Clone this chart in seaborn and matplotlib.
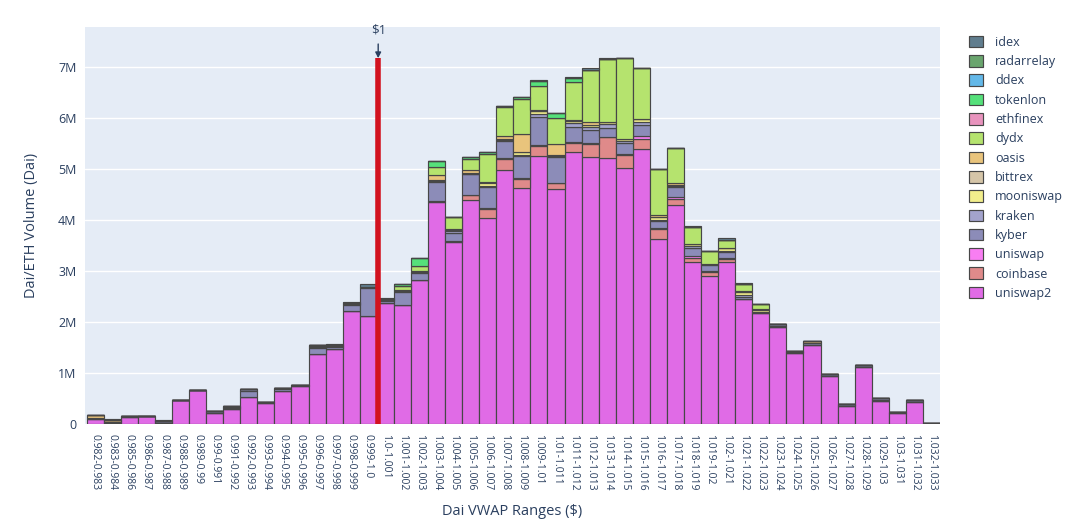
import numpy as np
import pandas as pd
import matplotlib
matplotlib.use('Agg')
import matplotlib.pyplot as plt
import seaborn as sns
from matplotlib.ticker import FuncFormatter, FixedLocator

# ---------------- data (values in millions of Dai) ----------------
ranges = ['0.982-0.983', '0.983-0.984', '0.985-0.986', '0.986-0.987', '0.987-0.988',
          '0.988-0.989', '0.989-0.99', '0.99-0.991', '0.991-0.992', '0.992-0.993',
          '0.993-0.994', '0.994-0.995', '0.995-0.996', '0.996-0.997', '0.997-0.998',
          '0.998-0.999', '0.999-1.0', '1.0-1.001', '1.001-1.002', '1.002-1.003',
          '1.003-1.004', '1.004-1.005', '1.005-1.006', '1.006-1.007', '1.007-1.008',
          '1.008-1.009', '1.009-1.01', '1.01-1.011', '1.011-1.012', '1.012-1.013',
          '1.013-1.014', '1.014-1.015', '1.015-1.016', '1.016-1.017', '1.017-1.018',
          '1.018-1.019', '1.019-1.02', '1.02-1.021', '1.021-1.022', '1.022-1.023',
          '1.023-1.024', '1.024-1.025', '1.025-1.026', '1.026-1.027', '1.027-1.028',
          '1.028-1.029', '1.029-1.03', '1.03-1.031', '1.031-1.032', '1.032-1.033']

uniswap2 = [0.105, 0.02, 0.13, 0.155, 0.025, 0.48, 0.66, 0.22, 0.29, 0.535,
            0.42, 0.65, 0.74, 1.37, 1.46, 2.22, 2.11, 2.38, 2.33, 2.83,
            4.36, 3.56, 4.39, 4.03, 4.98, 4.62, 5.25, 4.60, 5.33, 5.23,
            5.21, 5.01, 5.39, 3.62, 4.29, 3.18, 2.91, 3.18, 2.44, 2.18,
            1.90, 1.39, 1.55, 0.95, 0.36, 1.11, 0.45, 0.21, 0.43, 0.005]
coinbase = [0, 0, 0, 0, 0, 0, 0, 0, 0, 0,
            0, 0, 0, 0, 0, 0, 0, 0, 0, 0,
            0, 0, 0.09, 0.18, 0.22, 0.19, 0.20, 0.12, 0.17, 0.26,
            0.41, 0.26, 0.20, 0.20, 0.12, 0.08, 0.06, 0.05, 0, 0,
            0, 0, 0, 0, 0, 0, 0, 0, 0, 0]
uniswap = [0, 0, 0, 0, 0, 0, 0, 0, 0, 0,
           0, 0, 0, 0, 0, 0, 0, 0, 0, 0,
           0.01, 0.03, 0.01, 0.02, 0.02, 0.02, 0.02, 0.01, 0.02, 0.02,
           0.01, 0.02, 0.05, 0.02, 0.03, 0.03, 0.02, 0.02, 0, 0,
           0, 0, 0, 0, 0, 0, 0, 0, 0, 0]
kyber = [0.015, 0.015, 0.025, 0.005, 0.03, 0, 0, 0.025, 0.03, 0.12,
         0.02, 0.04, 0.03, 0.12, 0.05, 0.12, 0.55, 0.03, 0.25, 0.12,
         0.38, 0.16, 0.40, 0.42, 0.32, 0.43, 0.55, 0.50, 0.31, 0.25,
         0.17, 0.22, 0.22, 0.14, 0.20, 0.15, 0.12, 0.13, 0.04, 0.02,
         0.03, 0.02, 0.03, 0.03, 0.03, 0.04, 0.03, 0.025, 0.05, 0.015]
kraken = [0, 0, 0, 0, 0, 0, 0, 0, 0, 0.025,
          0, 0.01, 0, 0.02, 0.02, 0.02, 0.03, 0.02, 0.02, 0.02,
          0.02, 0.03, 0.01, 0.02, 0.03, 0.02, 0.06, 0.03, 0.06, 0.06,
          0.07, 0.04, 0.06, 0.02, 0.02, 0.04, 0.02, 0.02, 0.05, 0,
          0.02, 0, 0, 0, 0, 0, 0.02, 0, 0, 0]
mooniswap = [0, 0, 0, 0, 0, 0, 0, 0, 0.015, 0,
             0, 0, 0, 0.02, 0, 0.01, 0, 0.01, 0.02, 0.03,
             0.01, 0.02, 0.01, 0.06, 0.02, 0.05, 0.05, 0.01, 0.05, 0.04,
             0.04, 0.03, 0.05, 0.06, 0.03, 0.04, 0.01, 0.04, 0.05, 0.03,
             0, 0.015, 0, 0, 0, 0, 0, 0, 0, 0]
bittrex = [0, 0, 0, 0, 0, 0, 0, 0, 0, 0,
           0, 0, 0, 0.01, 0, 0, 0, 0, 0, 0,
           0, 0, 0, 0.01, 0, 0, 0.01, 0, 0, 0,
           0, 0, 0, 0, 0, 0, 0, 0, 0, 0,
           0, 0, 0, 0, 0, 0, 0, 0, 0, 0]
oasis = [0.05, 0.045, 0, 0, 0, 0, 0, 0, 0.015, 0,
         0, 0, 0, 0, 0.02, 0, 0, 0, 0, 0,
         0.09, 0.02, 0.06, 0.01, 0.06, 0.36, 0.01, 0.22, 0.01, 0.06,
         0, 0, 0, 0.03, 0.03, 0.01, 0, 0, 0.02, 0.02,
         0, 0, 0.04, 0, 0, 0, 0, 0, 0, 0]
dydx = [0, 0, 0, 0, 0, 0, 0, 0, 0, 0,
        0, 0, 0, 0, 0, 0, 0, 0, 0.09, 0.09,
        0.17, 0.23, 0.22, 0.55, 0.57, 0.67, 0.48, 0.50, 0.76, 1.02,
        1.25, 1.59, 1.00, 0.90, 0.69, 0.33, 0.25, 0.17, 0.14, 0.10,
        0, 0, 0, 0, 0, 0, 0, 0, 0, 0]
ethfinex = [0] * 50
tokenlon = [0, 0, 0, 0, 0, 0, 0, 0, 0, 0,
            0, 0, 0, 0, 0, 0, 0, 0, 0.03, 0.16,
            0.11, 0, 0.04, 0.04, 0.01, 0.05, 0.09, 0.11, 0.07, 0,
            0, 0, 0, 0.01, 0, 0, 0, 0, 0, 0,
            0, 0, 0, 0, 0, 0, 0, 0, 0, 0]
ddex = [0] * 50
radarrelay = [0] * 50
idex = [0, 0.01, 0, 0, 0.02, 0, 0, 0, 0, 0.015,
        0, 0, 0, 0, 0.01, 0.02, 0.05, 0.02, 0, 0,
        0, 0, 0, 0, 0, 0, 0.02, 0, 0.02, 0.04,
        0.01, 0, 0, 0, 0, 0.03, 0, 0.03, 0.02, 0,
        0, 0, 0, 0, 0, 0, 0, 0, 0, 0]

exchanges = ['idex', 'radarrelay', 'ddex', 'tokenlon', 'ethfinex', 'dydx', 'oasis',
             'bittrex', 'mooniswap', 'kraken', 'kyber', 'uniswap', 'coinbase', 'uniswap2']
series = [idex, radarrelay, ddex, tokenlon, ethfinex, dydx, oasis,
          bittrex, mooniswap, kraken, kyber, uniswap, coinbase, uniswap2]
colors = ['#607d8e', '#6aa56e', '#63b8e8', '#55e07a', '#e893bd', '#b5e36e', '#e9c47c',
          '#d5c5a8', '#f2ee8c', '#a3a3cc', '#8c8cb8', '#f87ef2', '#df8a8a', '#e06be6']

peg_label = '1.0-1.001'

# ---------------- build long data ----------------
rows = []
for name, vals in zip(exchanges, series):
    for r, v in zip(ranges, vals):
        rows.append((r, name, v * 1e6))
df = pd.DataFrame(rows, columns=['range', 'exchange', 'volume'])
totals = df.groupby('range', sort=False)['volume'].sum()

# ---------------- style ----------------
sns.set_style('darkgrid', {'axes.facecolor': '#e5ecf6', 'grid.color': 'white',
                           'axes.edgecolor': '#e5ecf6'})
plt.rcParams['font.family'] = ['Open Sans', 'DejaVu Sans']
txt = '#2a3f5f'

fig = plt.figure(figsize=(10.79, 5.22), dpi=100)
ax = fig.add_axes([85 / 1079, 98 / 522, 855 / 1079, 397 / 522])

sns.histplot(data=df, x='range', hue='exchange', weights='volume',
             hue_order=exchanges, palette=dict(zip(exchanges, colors)),
             multiple='stack', discrete=True, shrink=1, stat='count',
             edgecolor='#474747', linewidth=0.85, alpha=1, ax=ax, legend=True)

# $1 peg line
peg_x = ranges.index(peg_label) - 0.5
peg_top = totals.max()
ax.vlines(peg_x + 0.08, 0, peg_top, colors='#d2121f', linewidth=4.0, zorder=5)
ax.annotate(r'\$1', xy=(peg_x + 0.08, peg_top), xytext=(peg_x + 0.08, peg_top + 0.55e6),
            ha='center', va='center', fontsize=9.5, color=txt,
            arrowprops=dict(arrowstyle='-|>,head_length=0.35,head_width=0.18',
                            color=txt, lw=1.0, shrinkA=3, shrinkB=0), zorder=6)

ax.set_xlim(-0.6, len(ranges) - 0.5)
ax.set_ylim(0, 7.78e6)
ax.yaxis.set_major_locator(FixedLocator(np.arange(0, 8) * 1e6))
ax.yaxis.set_major_formatter(FuncFormatter(lambda v, p: '0' if v == 0 else f'{int(round(v / 1e6))}M'))
ax.grid(axis='x', visible=False)
ax.grid(axis='y', color='white', linewidth=1.0)
for s in ax.spines.values():
    s.set_visible(False)

ax.set_xticks(range(len(ranges)))
ax.set_xticklabels(ranges, rotation=-90, fontsize=7.5, color=txt)
ax.tick_params(axis='x', length=0, pad=7)
ax.tick_params(axis='y', length=0, pad=6, labelsize=9, labelcolor=txt)

ax.set_xlabel(r'Dai VWAP Ranges (\$)', fontsize=10.5, color=txt, labelpad=10)
ax.set_ylabel('Dai/ETH Volume (Dai)', fontsize=10.5, color=txt, labelpad=14)

sns.move_legend(ax, 'upper left', bbox_to_anchor=(1.034, 0.978), frameon=False,
                title=None, fontsize=9, handlelength=1.1, handleheight=1.05,
                handletextpad=1.0, labelspacing=0.5, borderaxespad=0, borderpad=0)
for t in ax.get_legend().get_texts():
    t.set_color(txt)

fig.savefig('out.png', dpi=100)
